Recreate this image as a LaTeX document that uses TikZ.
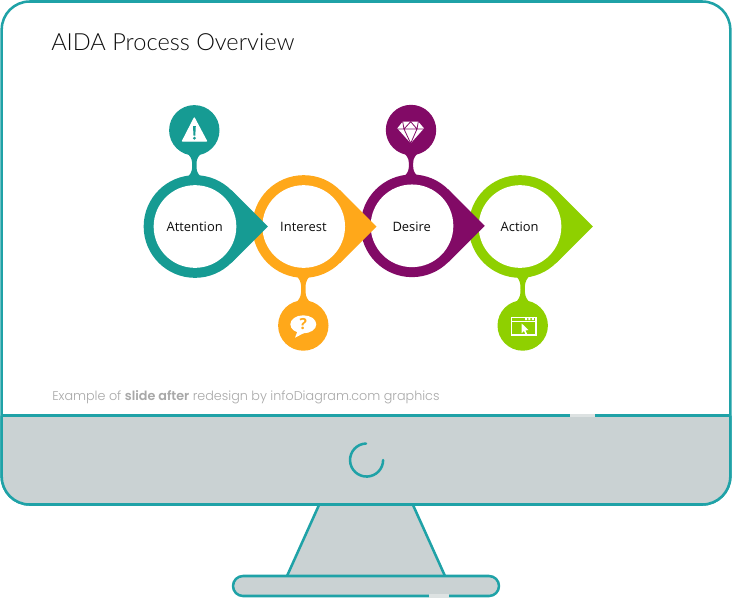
\documentclass[tikz,border=0pt]{standalone}
\usepackage{fontspec}
\setmainfont{Open Sans}
\newfontfamily\titlefont{Lato Light}
\newfontfamily\footfont{Poppins Light}[BoldFont=Poppins SemiBold]
\usetikzlibrary{calc}
\definecolor{cteal}{HTML}{169B93}
\definecolor{corange}{HTML}{FFA81A}
\definecolor{cpurple}{HTML}{820A66}
\definecolor{cgreen}{HTML}{8FD000}
\definecolor{cframe}{HTML}{1FA2A7}
\definecolor{cgrey}{HTML}{CAD2D3}
\definecolor{cgap}{HTML}{DDE2E2}
\definecolor{cfoot}{HTML}{A8A8A8}
\tikzset{
  framed/.style={draw=cframe,line width=1.9pt,line join=round},
  gapline/.style={draw=cgap,line width=2.4pt},
  outerdisc/.style={circle,inner sep=0pt,minimum size=77pt},
  innerdisc/.style={circle,inner sep=0pt,minimum size=62pt,fill=white},
  icondisc/.style={circle,inner sep=0pt,minimum size=37.8pt},
  steplabel/.style={inner sep=0pt,anchor=base,font=\fontsize{9.7pt}{11pt}\selectfont,text=black!95},
}
\newcommand{\drop}[5]{% name, x, y, label, colour
  \node[outerdisc,fill=#5] (#1o) at (#2,#3) {};
  \fill[#5] (#2+36.4,#3-36.4) -- (#2+72.8,#3) -- (#2+36.4,#3+36.4) -- cycle;
  \node[innerdisc] (#1) at (#2,#3) {};
  \node[steplabel] (#1t) at (#2-0.3,#3+5.2) {#4};
}
\newcommand{\stem}[3]{% from, to, colour
  \fill[#3] ($(#1)+(-6,0)$) .. controls ($(#1)!.2!(#2)+(-2.2,0)$) and ($(#1)!.3!(#2)+(-2.2,0)$) ..
    ($(#1)!.5!(#2)+(-2.2,0)$) .. controls ($(#1)!.7!(#2)+(-2.2,0)$) and ($(#1)!.8!(#2)+(-2.2,0)$) ..
    ($(#2)+(-6,0)$) -- ($(#2)+(6,0)$) .. controls ($(#1)!.8!(#2)+(2.2,0)$) and ($(#1)!.7!(#2)+(2.2,0)$) ..
    ($(#1)!.5!(#2)+(2.2,0)$) .. controls ($(#1)!.3!(#2)+(2.2,0)$) and ($(#1)!.2!(#2)+(2.2,0)$) ..
    ($(#1)+(6,0)$) -- cycle;
}
\begin{document}
\begin{tikzpicture}[x=0.75pt,y=-0.75pt]
\useasboundingbox (0,0) rectangle (732,597);
% stand
\fill[cgrey] (319,505) -- (287,576) -- (445,576) -- (413,505) -- cycle;
\draw[framed] (319,505) -- (287,576);
\draw[framed] (413,505) -- (445,576);
\draw[framed,fill=cgrey,rounded corners=7.5pt] (233,576) rectangle (499,596);
\draw[gapline] (429,596) -- (449,596);
% monitor
\draw[framed,fill=white,rounded corners=21pt] (1.7,1.5) rectangle (730.3,504.5);
\fill[cgrey] (1.7,415.5) [sharp corners] -- (1.7,480) [rounded corners=21pt] -- (1.7,504.5) -- (730.3,504.5) [sharp corners] -- (730.3,480) -- (730.3,415.5) -- cycle;
\draw[framed,rounded corners=21pt] (1.7,415.5) -- (1.7,504.5) -- (730.3,504.5) -- (730.3,415.5);
\draw[framed] (1.7,415.5) -- (730.3,415.5);
\draw[gapline] (570,415.5) -- (595,415.5);
\draw[framed,line cap=round] (366,443.5) arc[start angle=92,end angle=360,radius=12.4pt];
% title and footer
\node[inner sep=0pt,anchor=base west,font=\titlefont\fontsize{17.7pt}{22pt}\selectfont,text=black!95] (title) at (51,50) {AIDA Process Overview};
\node[inner sep=0pt,anchor=base west,font=\footfont\fontsize{9.55pt}{11pt}\selectfont,text=cfoot] (foot) at (52,400) {Example of \textbf{slide after} redesign by infoDiagram.com graphics};
% drops, right to left so that each tip lies on the next ring
\node[icondisc,fill=cgreen] (acti) at (522.7,325.5) {};
\drop{act}{520}{226.5}{Action}{cgreen}
\node[icondisc,fill=cpurple] (desi) at (411,130) {};
\drop{des}{412}{225.8}{Desire}{cpurple}
\node[icondisc,fill=corange] (inti) at (303.3,325.5) {};
\drop{int}{303.7}{226.5}{Interest}{corange}
\node[icondisc,fill=cteal] (atti) at (194.3,130.3) {};
\drop{att}{195}{226.5}{Attention}{cteal}
% stems
\coordinate (atta) at ($(atti.south)+(0,-1.5)$);
\coordinate (desa) at ($(desi.south)+(0,-1.5)$);
\coordinate (inta) at ($(inti.north)+(0,1.5)$);
\coordinate (acta) at ($(acti.north)+(0,1.5)$);
\coordinate (atts) at ($(atti.south |- atto.north)+(0,1.5)$);
\coordinate (dess) at ($(desi.south |- deso.north)+(0,1.5)$);
\coordinate (ints) at ($(inti.north |- into.south)+(0,-1.5)$);
\coordinate (acts) at ($(acti.north |- acto.south)+(0,-1.5)$);
\stem{atta}{atts}{cteal}
\stem{desa}{dess}{cpurple}
\stem{inta}{ints}{corange}
\stem{acta}{acts}{cgreen}
% warning icon
\fill[white,draw=white,line width=0.9pt,line join=round] (194.3,118) -- (182.5,141) -- (206.5,141) -- cycle;
\fill[cteal] (193,126) -- (195.8,126) -- (195.3,135.5) -- (193.5,135.5) -- cycle;
\fill[cteal] (194.4,138.2) circle[radius=1.6];
% diamond icon
\fill[white] (402.7,121.7) -- (418.3,121.7) -- (424,128.3) -- (410.7,143.3) -- (397.3,128.3) -- cycle;
\draw[cpurple,line width=0.6pt] (397.3,129) -- (424,129) (404,129) -- (410.7,143.3) -- (417,129) (404,129) -- (410.7,121.7) -- (417,129) (402.7,121.7) -- (404,129) (418.3,121.7) -- (417,129);
% speech icon
\fill[white] (303.3,324.3) ellipse[x radius=13,y radius=9];
\fill[white] (298,330) -- (295,337.7) -- (306,332) -- cycle;
\node[inner sep=0pt,font=\bfseries\fontsize{11.5pt}{13pt}\selectfont,text=corange] (qm) at (303.3,324) {?};
% window icon
\draw[white,line width=1pt] (511.7,317.3) rectangle (536,335) (511.7,321.5) -- (536,321.5);
\fill[white] (525,318) rectangle (527,320) (528.4,318) rectangle (530.4,320) (531.8,318) rectangle (533.8,320);
\fill[white] (521.7,323.5) -- (521.7,333) -- (524,331) -- (525.5,334.5) -- (527,333.7) -- (525.5,330.5) -- (528.5,330) -- cycle;
\end{tikzpicture}
\end{document}
